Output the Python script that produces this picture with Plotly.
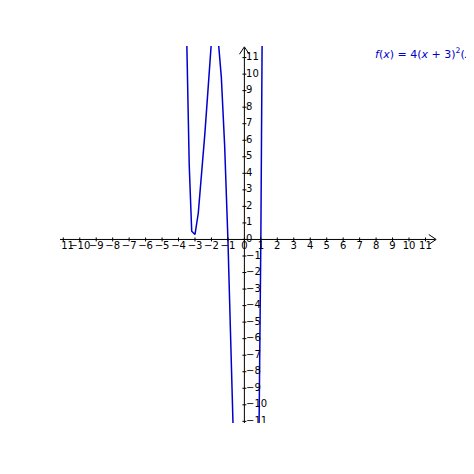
import plotly.graph_objects as go

# curve samples
curve_x = [-3.6, -3.5, -3.35, -3.2, -3.0, -2.8, -2.6, -2.4, -2.2, -2.0, -1.8, -1.6,
           -1.4, -1.2, -1.0, -0.8, -0.6, 0.0, 0.8, 1.0, 1.2]
curve_y = [17.0, 11.5, 4.5, 0.5, 0.3, 1.6, 3.9, 6.4, 9.2, 12.0, 12.9, 12.2,
           9.8, 5.7, 0.0, -7.0, -14.7, -36.0, -20.8, 0.0, 31.0]

ticks = [t for t in range(-11, 12)]
tick_text = [str(t).replace("-", "\u2212") for t in ticks]

fig = go.Figure()

# curve
fig.add_trace(go.Scatter(x=curve_x, y=curve_y, mode="lines",
                         line=dict(color="#0000cc", width=1.5), hoverinfo="skip"))

# axes through the origin
fig.add_trace(go.Scatter(x=[-11.2, 11.6], y=[0, 0], mode="lines",
                         line=dict(color="black", width=1), hoverinfo="skip"))
fig.add_trace(go.Scatter(x=[0, 0], y=[-11.1, 11.6], mode="lines",
                         line=dict(color="black", width=1), hoverinfo="skip"))
# arrow heads
fig.add_trace(go.Scatter(x=[11.2, 11.65, 11.2], y=[0.3, 0, -0.3], mode="lines",
                         line=dict(color="black", width=1), hoverinfo="skip"))
fig.add_trace(go.Scatter(x=[-0.3, 0, 0.3], y=[11.2, 11.65, 11.2], mode="lines",
                         line=dict(color="black", width=1), hoverinfo="skip"))

# tick marks
tx, ty = [], []
for t in ticks:
    tx += [t, t, None]
    ty += [-0.12, 0.12, None]
    tx += [-0.12, 0.12, None]
    ty += [t, t, None]
fig.add_trace(go.Scatter(x=tx, y=ty, mode="lines",
                         line=dict(color="black", width=1), hoverinfo="skip"))

# tick labels
fig.add_trace(go.Scatter(x=ticks, y=[-0.1] * len(ticks), mode="text",
                         text=tick_text, textposition="bottom center",
                         textfont=dict(size=10, color="black"), hoverinfo="skip"))
fig.add_trace(go.Scatter(x=[0.1] * len(ticks), y=ticks, mode="text",
                         text=tick_text, textposition="middle right",
                         textfont=dict(size=10, color="black"), hoverinfo="skip"))

fig.update_layout(
    width=474, height=474, autosize=False, showlegend=False,
    margin=dict(l=52, r=45, t=38, b=59),
    plot_bgcolor="white", paper_bgcolor="white",
    font=dict(family="DejaVu Sans", size=10, color="black"),
    xaxis=dict(range=[-11.2, 11.7], visible=False, fixedrange=True),
    yaxis=dict(range=[-11.1, 11.7], visible=False, fixedrange=True),
)

# title text placed in paper coordinates, cut off at the right edge like the original
fig.add_annotation(xref="paper", yref="paper",
                   x=(365 - 52) / 377, y=(474 - 45 - 59) / 377,
                   text="<i>f</i>(<i>x</i>) = 4(<i>x</i> + 3)<sup>2</sup>(<i>x</i> + 1)(<i>x</i> − 1)",
                   showarrow=False, xanchor="left", yanchor="middle",
                   font=dict(size=11, color="#0000cc", family="DejaVu Sans"))

fig.write_html("out.html")
